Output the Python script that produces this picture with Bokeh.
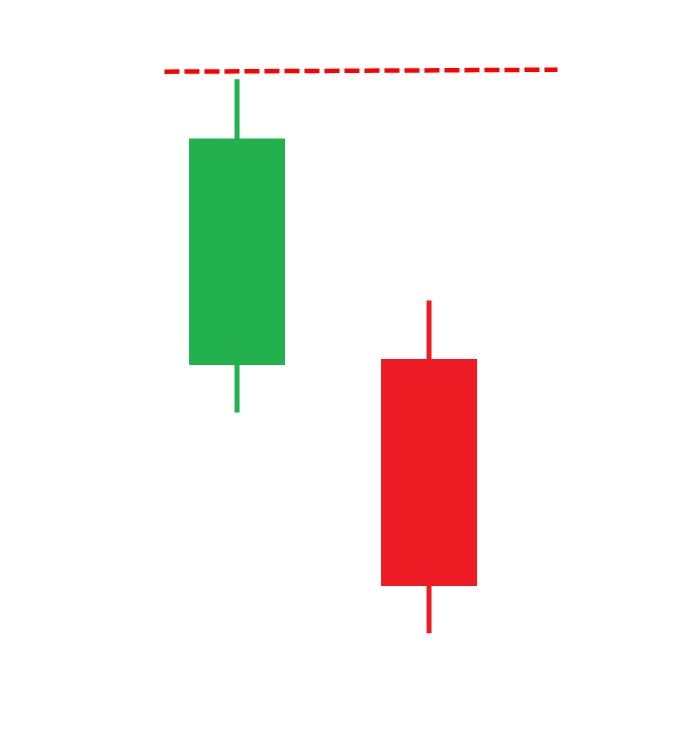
from bokeh.plotting import figure
from bokeh.models import ColumnDataSource, Range1d
from bokeh.embed import file_html
from bokeh.resources import INLINE

# Data
candle_index = [0, 1]
opens = [94.9, 96.4]
closes = [151.5, 39.6]
highs = [166.3, 111.0]
lows = [83.0, 27.8]
candle_colors = ["#22B14C", "#ED1C24"]

resistance_x = [-0.378, 1.669]
resistance_y = [168.2, 168.7]

tops = [max(o, c) for o, c in zip(opens, closes)]
bottoms = [min(o, c) for o, c in zip(opens, closes)]

src = ColumnDataSource(dict(x=candle_index, top=tops, bottom=bottoms,
                            high=highs, low=lows, color=candle_colors))

p = figure(width=662, height=736, output_backend="svg", toolbar_location=None,
           x_range=Range1d(-1.232, 2.216), y_range=Range1d(2, 186),
           x_axis_location=None, y_axis_location=None, min_border=0)
p.outline_line_color = None
p.xgrid.visible = False
p.ygrid.visible = False
p.background_fill_color = "white"
p.border_fill_color = "white"

p.segment(x0="x", y0="low", x1="x", y1="high", source=src,
          line_color="color", line_width=5)
p.vbar(x="x", width=0.5, top="top", bottom="bottom", source=src,
       fill_color="color", line_color=None)
p.line(resistance_x, resistance_y, line_color="#FF0000", line_width=4.5,
       line_dash="15 5")

open("out.html", "w").write(file_html(p, INLINE))
